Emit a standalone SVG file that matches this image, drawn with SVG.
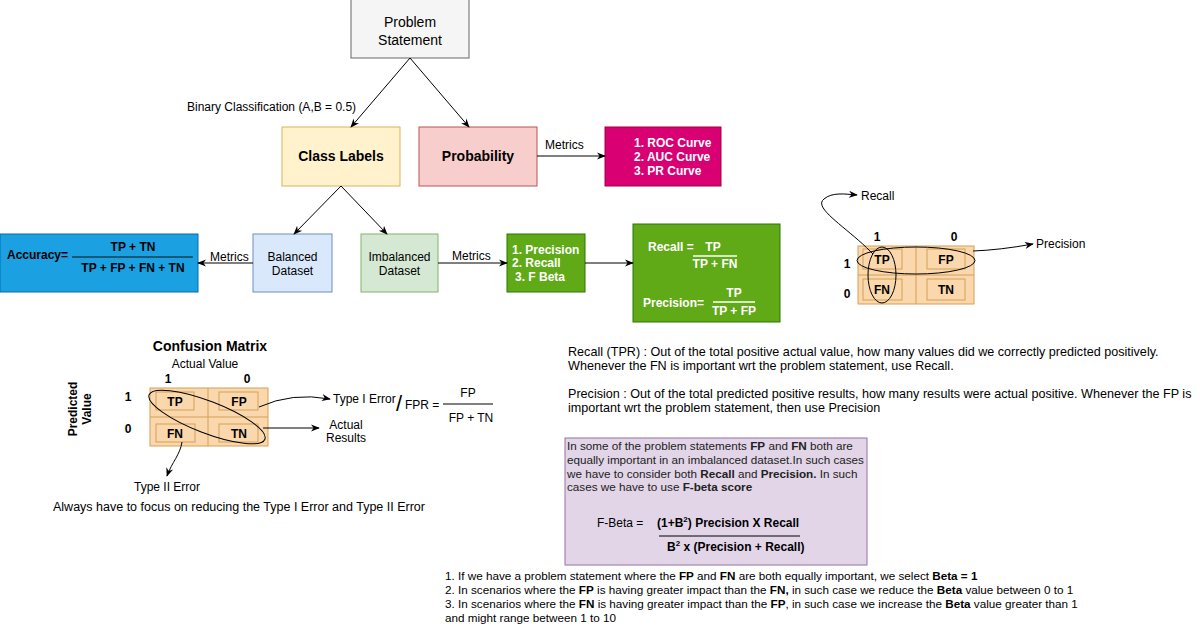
<svg xmlns="http://www.w3.org/2000/svg" width="1200" height="638" viewBox="0 0 1200 638">
<defs>
<marker id="arr" viewBox="0 0 10 10" refX="9" refY="5" markerWidth="9" markerHeight="9" orient="auto" markerUnits="userSpaceOnUse"><path d="M0,1 L10,5 L0,9 L3,5 z" fill="#000"/></marker>
</defs>
<style>
text{font-family:"Liberation Sans",Arial,sans-serif;font-size:12px;fill:#000}
.b{font-weight:bold}
.w{fill:#fff}
.c{text-anchor:middle}
.t14{font-size:14px}
.ex{font-size:12.6px}
.pb{font-size:11.7px;fill:#222}
.bn{font-size:11.7px}
.ln{stroke:#000;stroke-width:1;fill:none}
.wl{stroke:#fff;stroke-width:1.5;fill:none}
.cm{fill:#fad7ac;stroke:#d4a157;stroke-width:1}
.el{fill:none;stroke:#000;stroke-width:1}
.con{stroke:#000;stroke-width:1;fill:none;marker-end:url(#arr)}
</style>
<rect width="1200" height="638" fill="#fff"/>

<g id="problem-statement">
<rect x="351" y="-1" width="118" height="59" fill="#f5f5f5" stroke="#666"/>
<text class="c t14" x="410" y="27">Problem</text>
<text class="c t14" x="410" y="45">Statement</text>
</g>

<g id="class-labels">
<rect x="282" y="127" width="118" height="59" fill="#fff2cc" stroke="#d6b656"/>
<text class="c b t14" x="341" y="161">Class Labels</text>
</g>

<g id="probability">
<rect x="419" y="127" width="118" height="59" fill="#f8cecc" stroke="#b85450"/>
<text class="c b t14" x="478" y="161">Probability</text>
</g>

<g id="roc-metrics">
<rect x="605" y="127" width="116" height="59" fill="#d80073" stroke="#a50040"/>
<text class="b w" x="634" y="147">1. ROC Curve</text>
<text class="b w" x="634" y="161">2. AUC Curve</text>
<text class="b w" x="634" y="175">3. PR Curve</text>
</g>

<g id="accuracy">
<rect x="0" y="234" width="198" height="58" fill="#1ba1e2" stroke="#006eaf"/>
<text class="b" x="7" y="259" fill="#111">Accuracy=</text>
<text class="b c" x="133" y="251">TP + TN</text>
<line x1="72" y1="257" x2="193" y2="257" stroke="#111" stroke-width="1"/>
<text class="b c" x="133" y="272">TP + FP + FN + TN</text>
</g>

<g id="balanced-dataset">
<rect x="253" y="234" width="79" height="58" fill="#dae8fc" stroke="#6c8ebf"/>
<text class="c" x="292.5" y="261">Balanced</text>
<text class="c" x="292.5" y="275">Dataset</text>
</g>

<g id="imbalanced-dataset">
<rect x="361" y="234" width="77" height="58" fill="#d5e8d4" stroke="#82b366"/>
<text class="c" x="399.5" y="261">Imbalanced</text>
<text class="c" x="399.5" y="275">Dataset</text>
</g>

<g id="precision-recall-fbeta">
<rect x="507" y="234" width="78" height="58" fill="#60a917" stroke="#2d7600"/>
<text class="b w" x="512" y="254">1. Precision</text>
<text class="b w" x="512" y="267">2. Recall</text>
<text class="b w" x="515" y="281">3. F Beta</text>
</g>

<g id="recall-precision-formula">
<rect x="633" y="224" width="147" height="98" fill="#60a917" stroke="#2d7600"/>
<text class="b w" x="648" y="251">Recall =</text>
<text class="b w c" x="713" y="251">TP</text>
<line class="wl" x1="693" y1="256" x2="737" y2="256"/>
<text class="b w c" x="715" y="268">TP + FN</text>
<text class="b w" x="643" y="307">Precision=</text>
<text class="b w c" x="734" y="297">TP</text>
<line class="wl" x1="713" y1="302" x2="755" y2="302"/>
<text class="b w c" x="734" y="315">TP + FP</text>
</g>

<g id="recall-precision-matrix">
<rect class="cm" x="858" y="246" width="116" height="58"/>
<line class="cm" x1="916" y1="246" x2="916" y2="304"/>
<line class="cm" x1="858" y1="275" x2="974" y2="275"/>
<rect class="cm" x="863" y="249" width="39" height="20"/>
<rect class="cm" x="927" y="249" width="38" height="20"/>
<rect class="cm" x="863" y="279" width="39" height="21"/>
<rect class="cm" x="927" y="279" width="38" height="21"/>
<text class="b c" x="882" y="264">TP</text>
<text class="b c" x="946" y="264">FP</text>
<text class="b c" x="882" y="294">FN</text>
<text class="b c" x="946" y="294">TN</text>
<text class="b c" x="877" y="241">1</text>
<text class="b c" x="954" y="241">0</text>
<text class="b c" x="847" y="268">1</text>
<text class="b c" x="847" y="298">0</text>
<ellipse class="el" cx="916" cy="260.5" rx="59" ry="13.5"/>
<ellipse class="el" cx="882" cy="275" rx="14" ry="28"/>
<text x="861" y="200">Recall</text>
<text x="1036" y="248">Precision</text>
</g>

<g id="confusion-matrix">
<text class="b c t14" x="210" y="351">Confusion Matrix</text>
<text class="c" x="205" y="368">Actual Value</text>
<text class="b c" x="168" y="383">1</text>
<text class="b c" x="247" y="383">0</text>
<text class="b c" transform="translate(77,409) rotate(-90)">Predicted</text>
<text class="b c" transform="translate(91,409) rotate(-90)">Value</text>
<text class="b c" x="128" y="401">1</text>
<text class="b c" x="128" y="433">0</text>
<rect class="cm" x="150" y="388" width="118" height="58"/>
<line class="cm" x1="208" y1="388" x2="208" y2="446"/>
<line class="cm" x1="150" y1="417" x2="268" y2="417"/>
<rect class="cm" x="156" y="392" width="38" height="18"/>
<rect class="cm" x="219" y="392" width="39" height="18"/>
<rect class="cm" x="156" y="424" width="39" height="18"/>
<rect class="cm" x="219" y="424" width="39" height="18"/>
<text class="b c" x="175" y="406">TP</text>
<text class="b c" x="239" y="406">FP</text>
<text class="b c" x="175" y="438">FN</text>
<text class="b c" x="239" y="438">TN</text>
<ellipse class="el" cx="207" cy="417" rx="62" ry="16" transform="rotate(21 207 417)"/>
<text x="333" y="403">Type I Error</text>
<text x="396" y="411" style="font-size:22px">/</text>
<text x="405" y="409">FPR =</text>
<text class="c" x="468" y="397">FP</text>
<line class="ln" x1="443" y1="404" x2="493" y2="404"/>
<text class="c" x="471" y="422">FP + TN</text>
<text class="c" x="346" y="429">Actual</text>
<text class="c" x="346" y="442">Results</text>
<text class="c" x="167" y="491">Type II Error</text>
<text x="53" y="511" style="font-size:12.5px">Always have to focus on reducing the Type I Error and Type II Error</text>
</g>

<g id="explanations">
<text class="ex" x="568" y="356">Recall (TPR) : Out of the total positive actual value, how many values did we correctly predicted positively.</text>
<text class="ex" x="568" y="370">Whenever the FN is important wrt the problem statement, use Recall.</text>
<text class="ex" x="568" y="398">Precision : Out of the total predicted positive results, how many results were actual positive. Whenever the FP is</text>
<text class="ex" x="568" y="412">important wrt the problem statement, then use Precision</text>
</g>

<g id="fbeta-box">
<rect x="565" y="438" width="302" height="127" fill="#e1d5e7" stroke="#9673a6"/>
<text class="pb" x="567" y="450">In some of the problem statements <tspan class="b">FP</tspan> and <tspan class="b">FN</tspan> both are</text>
<text class="pb" x="567" y="464">equally important in an imbalanced dataset.In such cases</text>
<text class="pb" x="567" y="478">we have to consider both <tspan class="b">Recall</tspan> and <tspan class="b">Precision.</tspan> In such</text>
<text class="pb" x="567" y="491">cases we have to use <tspan class="b">F-beta score</tspan></text>
<text x="597" y="527">F-Beta =</text>
<text class="b" x="657" y="527">(1+B<tspan dy="-5" style="font-size:8px">2</tspan><tspan dy="5">) Precision X Recall</tspan></text>
<line class="ln" x1="659" y1="536" x2="800" y2="536"/>
<text class="b" x="667" y="551">B<tspan dy="-5" style="font-size:8px">2</tspan><tspan dy="5"> x (Precision + Recall)</tspan></text>
</g>

<g id="beta-notes">
<text class="bn" x="445" y="580">1. If we have a problem statement where the <tspan class="b">FP</tspan> and <tspan class="b">FN</tspan> are both equally important, we select <tspan class="b">Beta = 1</tspan></text>
<text class="bn" x="445" y="594">2. In scenarios where the <tspan class="b">FP</tspan> is having greater impact than the <tspan class="b">FN,</tspan>  in such case we reduce the <tspan class="b">Beta</tspan> value between 0 to 1</text>
<text class="bn" x="445" y="608">3. In scenarios where the <tspan class="b">FN</tspan> is having greater impact than the <tspan class="b">FP</tspan>,  in such case we increase the <tspan class="b">Beta</tspan> value greater than 1</text>
<text class="bn" x="445" y="622">and might range between 1 to 10</text>
</g>

<g id="connectors">
<path class="con" d="M410,58 L351,127"/>
<path class="con" d="M410,58 L469,127"/>
<text x="187" y="111">Binary Classification (A,B = 0.5)</text>
<path class="con" d="M537,156 L605,156"/>
<text x="545" y="149">Metrics</text>
<path class="con" d="M341,186 L294,234"/>
<path class="con" d="M341,186 L387,234"/>
<path class="con" d="M253,263 L198,263"/>
<text x="210" y="261">Metrics</text>
<path class="con" d="M438,263 L507,263"/>
<text x="452" y="260">Metrics</text>
<path class="con" d="M585,263 L633,263"/>
<path class="con" d="M873,254 C848,228 812,208 824,199 C832,192 845,194 857,195"/>
<path class="con" d="M973,251 Q1000,250 1033,244"/>
<path class="con" d="M259,407 Q292,392 330,399"/>
<path class="con" d="M263,428 L319,428"/>
<path class="con" d="M182,442 C180,455 172,462 167,476"/>
</g>
</svg>
